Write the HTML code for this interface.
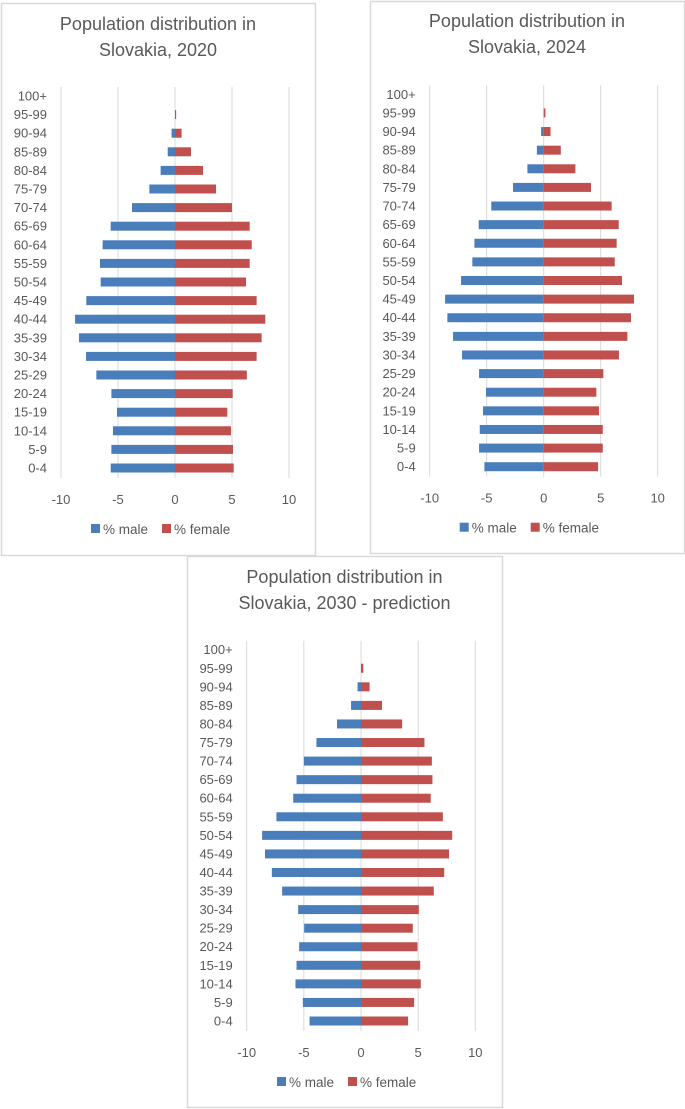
<!DOCTYPE html>
<html><head><meta charset="utf-8"><style>
html,body{margin:0;padding:0;background:#fff;}
svg{display:block;font-family:"Liberation Sans",sans-serif;}
</style></head><body>
<svg id="pg" width="685" height="1109" viewBox="0 0 685 1109" xmlns="http://www.w3.org/2000/svg"></svg>
<script>
const ageGroups = ["100+","95-99","90-94","85-89","80-84","75-79","70-74","65-69","60-64","55-59","50-54","45-49","40-44","35-39","30-34","25-29","20-24","15-19","10-14","5-9","0-4"];
const xTicks = [-10,-5,0,5,10];
const male2020 = [0,0,0.3,0.64,1.26,2.25,3.77,5.64,6.35,6.58,6.52,7.78,8.77,8.42,7.8,6.9,5.58,5.09,5.44,5.58,5.64];
const female2020 = [0,0.1,0.58,1.4,2.46,3.6,5.0,6.55,6.73,6.55,6.23,7.16,7.92,7.6,7.16,6.3,5.06,4.59,4.91,5.09,5.15];
const male2024 = [0,0,0.23,0.6,1.43,2.69,4.6,5.7,6.08,6.26,7.25,8.65,8.45,7.95,7.16,5.67,5.06,5.32,5.61,5.67,5.2];
const female2024 = [0,0.15,0.6,1.5,2.78,4.15,5.96,6.58,6.4,6.23,6.87,7.92,7.66,7.34,6.6,5.23,4.62,4.85,5.18,5.18,4.77];
const male2030 = [0,0,0.3,0.87,2.1,3.9,5.0,5.64,5.93,7.4,8.65,8.4,7.8,6.9,5.5,4.97,5.41,5.64,5.73,5.09,4.5];
const female2030 = [0,0.2,0.75,1.84,3.6,5.55,6.2,6.25,6.1,7.16,7.98,7.7,7.28,6.37,5.06,4.53,4.94,5.18,5.23,4.65,4.12];

const NS="http://www.w3.org/2000/svg";
const svg=document.getElementById('pg');
function mk(tag,attrs,parent){const e=document.createElementNS(NS,tag);for(const k in attrs)e.setAttribute(k,attrs[k]);(parent||svg).appendChild(e);return e;}

function chart(cfg){
  const g=mk('g',{});
  
  
  const box=mk('rect',{x:cfg.bx+0.5,y:cfg.by+0.5,width:cfg.bw,height:cfg.bh,fill:'#fff',stroke:'#d9d9d9','stroke-width':1.5},g);
  
  
  const cx=cfg.bx+cfg.bw/2;
  cfg.title.forEach((t,i)=>{
    const tt=mk('text',{x:cx,y:cfg.by+cfg.ty+i*26,'text-anchor':'middle','font-size':18,fill:'#595959'},g);
    tt.textContent=t;
    
    
  });
  const xs=v=>cfg.x0+(v)*(cfg.x10-cfg.x0)/10;
  const step=(cfg.yLast-cfg.yFirst)/(ageGroups.length-1);
  const ys=i=>cfg.yFirst+i*step;
  xTicks.forEach(t=>{
    const ln=mk('line',{x1:xs(t),x2:xs(t),y1:ys(0)-9,y2:ys(ageGroups.length-1)+10,stroke:'#d9d9d9','stroke-width':1},g);
    
    
    const tl=mk('text',{x:xs(t),y:ys(ageGroups.length-1)+36,'text-anchor':'middle','font-size':13,fill:'#595959'},g);
    tl.textContent=String(t);
    
    
  });
  ageGroups.forEach((a,i)=>{
    const y=ys(i);
    const lb=mk('text',{x:xs(-10)-14,y:y+4.5,'text-anchor':'end','font-size':13,fill:'#595959'},g);
    lb.textContent=a;
    
    
    const m=cfg.male[i], f=cfg.female[i];
    if(m>0){const r=mk('rect',{x:xs(-m),y:y-4.5,width:xs(0)-xs(-m),height:9,fill:'#4a7ebb'},g);
      
      }
    if(f>0){const r=mk('rect',{x:xs(0),y:y-4.5,width:xs(f)-xs(0),height:9,fill:'#c0504d'},g);
      
      }
  });
  const ly=ys(ageGroups.length-1)+66;
  const lx=xs(0)-84;
  const s1=mk('rect',{x:lx,y:ly-10,width:9,height:9,fill:'#4a7ebb'},g);
  
  
  const t1=mk('text',{x:lx+12,y:ly,'font-size':13.5,fill:'#595959'},g);t1.textContent='% male';
  
  
  const s2=mk('rect',{x:lx+71,y:ly-10,width:9,height:9,fill:'#c0504d'},g);
  
  
  const t2=mk('text',{x:lx+83,y:ly,'font-size':13.5,fill:'#595959'},g);t2.textContent='% female';
  
  
}

chart({name:'chart-2020',bx:1,by:3,bw:314,bh:552,ty:27,title:['Population distribution in','Slovakia, 2020'],x0:175,x10:289,yFirst:96,yLast:468,male:male2020,female:female2020});
chart({name:'chart-2024',bx:370,by:1,bw:314,bh:552,ty:26,title:['Population distribution in','Slovakia, 2024'],x0:543.7,x10:657.7,yFirst:94.3,yLast:466.7,male:male2024,female:female2024});
chart({name:'chart-2030-prediction',bx:187,by:556,bw:315,bh:551,ty:27,title:['Population distribution in','Slovakia, 2030 - prediction'],x0:361,x10:475.3,yFirst:649.7,yLast:1021,male:male2030,female:female2030});
</script>
</body></html>
